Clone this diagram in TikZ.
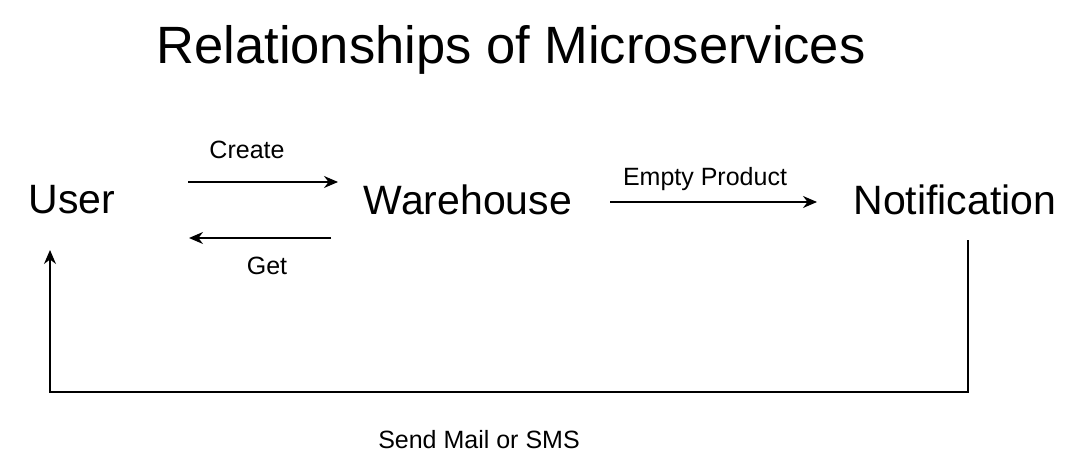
\documentclass[tikz,border=0pt]{standalone}
\usepackage{fontspec}
\setmainfont{Liberation Sans}
\usetikzlibrary{arrows.meta}
\begin{document}
\begin{tikzpicture}[x=1pt,y=-1pt,
  svc/.style={font=\fontsize{41}{48}\selectfont, inner sep=0pt},
  lbl/.style={font=\fontsize{25}{30}\selectfont, inner sep=0pt},
  conn/.style={line width=1.6pt,-{Stealth[length=14pt,width=12pt]}}]
\useasboundingbox (0,0) rectangle (1068,473);
\node[inner sep=0pt,font=\fontsize{52.5}{60}\selectfont] (title) at (511,50) {Relationships of Microservices};
\node[svc] (user) at (72,200) {User};
\node[svc] (wh) at (468,200) {Warehouse};
\node[svc] (notif) at (955,200) {Notification};
\coordinate (c1) at (188,182); \coordinate (c2) at (338,182);
\coordinate (g1) at (331,238); \coordinate (g2) at (189,238);
\coordinate (e1) at (610,202); \coordinate (e2) at (817,202);
\coordinate (n1) at (968,240); \coordinate (u1) at (50,250);
\draw[conn] (c1) -- (c2);
\draw[conn] (g1) -- (g2);
\draw[conn] (e1) -- (e2);
\draw[conn] (n1) |- (50,392) -- (u1);
\node[lbl] (lc) at (247,150) {Create};
\node[lbl] (lg) at (267,266) {Get};
\node[lbl] (le) at (705,179) {Empty Product};
\node[lbl] (ls) at (479,440) {Send Mail or SMS};
\end{tikzpicture}
\end{document}
